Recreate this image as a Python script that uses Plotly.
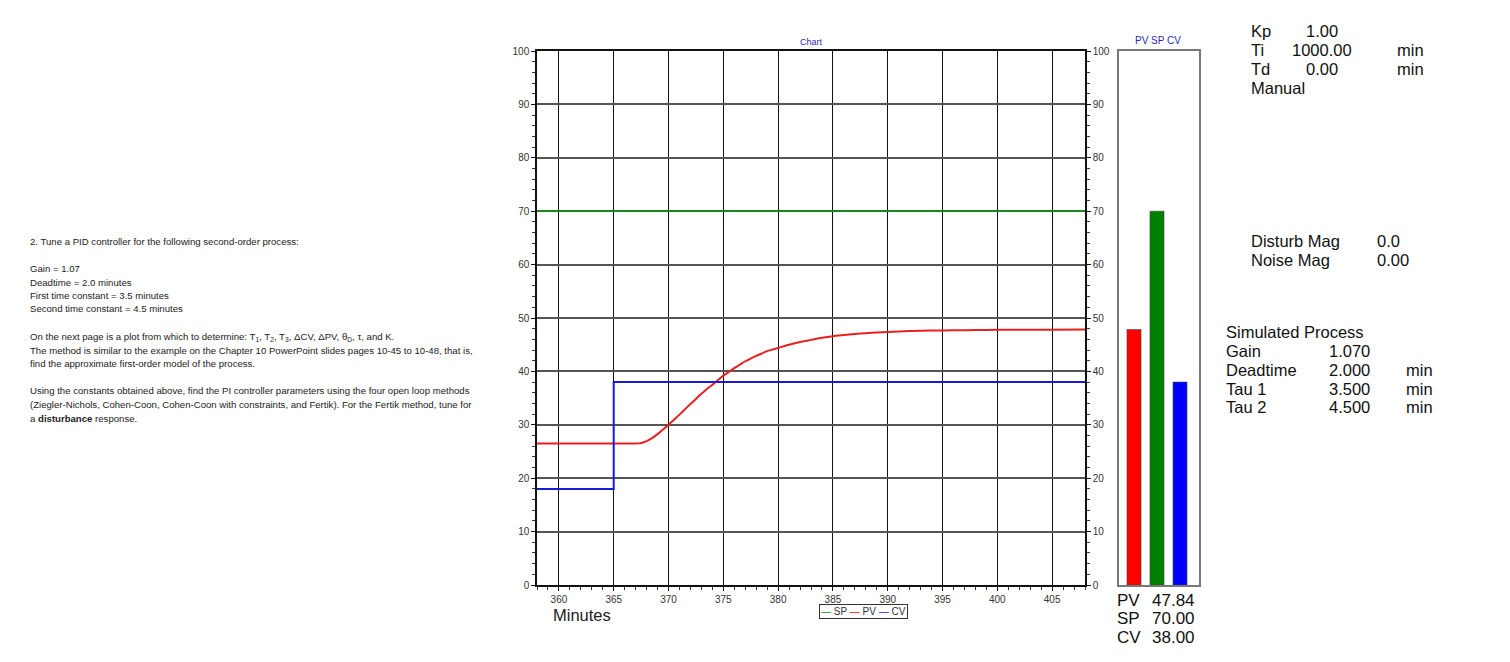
import plotly.graph_objects as go

W, H = 1510, 662

# ---------------- data ----------------
time_pv = [358, 362, 366, 367.0, 367.3, 367.6, 368, 368.5, 369, 369.5, 370, 370.5, 371, 371.5, 372, 372.5, 373,
           373.5, 374, 374.5, 375, 375.5, 376, 376.5, 377, 377.5, 378, 378.5, 379, 379.5,
           380, 381, 382, 383, 384, 385, 386, 387, 388, 389, 390, 392, 394, 396, 398, 400, 403, 405, 408]
pv_vals = [26.5, 26.5, 26.5, 26.5, 26.52, 26.65, 26.95, 27.5, 28.25, 29.1, 30.0, 30.95, 31.9, 32.9, 33.9, 34.85, 35.8,
           36.7, 37.5, 38.35, 39.2, 39.9, 40.6, 41.25, 41.9, 42.4, 42.9, 43.35, 43.8, 44.1,
           44.4, 45.0, 45.5, 45.9, 46.3, 46.6, 46.8, 47.0, 47.15, 47.3, 47.4, 47.55, 47.65, 47.7, 47.75, 47.78, 47.8, 47.82, 47.84]
time_cv = [358, 365, 408]
cv_vals = [18, 38, 38]
time_sp = [358, 408]
sp_vals = [70, 70]

bar_labels = ["PV", "SP", "CV"]
bar_values = [47.84, 70.00, 38.00]
bar_colors = ["#ff0000", "#008000", "#0000ff"]

x_ticks = [360, 365, 370, 375, 380, 385, 390, 395, 400, 405]
y_ticks = [0, 10, 20, 30, 40, 50, 60, 70, 80, 90, 100]

controller = [("Kp", "1.00", ""), ("Ti", "1000.00", "min"), ("Td", "0.00", "min")]
mode = "Manual"
disturb = [("Disturb Mag", "0.0"), ("Noise Mag", "0.00")]
process = [("Gain", "1.070", ""), ("Deadtime", "2.000", "min"), ("Tau 1", "3.500", "min"), ("Tau 2", "4.500", "min")]

problem_lines = [
    (241, "2. Tune a PID controller for the following second-order process:"),
    (268, "Gain = 1.07"),
    (282, "Deadtime = 2.0 minutes"),
    (295, "First time constant = 3.5 minutes"),
    (309, "Second time constant = 4.5 minutes"),
    (337, "On the next page is a plot from which to determine: T<sub>1</sub>, T<sub>2</sub>, T<sub>3</sub>, ΔCV, ΔPV, θ<sub>D</sub>, τ, and K."),
    (350, "The method is similar to the example on the Chapter 10 PowerPoint slides pages 10-45 to 10-48, that is,"),
    (363, "find the approximate first-order model of the process."),
    (390, "Using the constants obtained above, find the PI controller parameters using the four open loop methods"),
    (404, "(Ziegler-Nichols, Cohen-Coon, Cohen-Coon with constraints, and Fertik). For the Fertik method, tune for"),
    (418, "a <b>disturbance</b> response."),
]

# ---------------- helpers ----------------
def px(x):
    return x / W

def py(y):
    return 1 - y / H

FONT = "Liberation Sans, Arial, sans-serif"

fig = go.Figure()

fig.add_trace(go.Scatter(x=time_sp, y=sp_vals, mode="lines", line=dict(color="#1a8a1a", width=1.8),
                         name="SP", showlegend=False, hoverinfo="skip"))
fig.add_trace(go.Scatter(x=time_pv, y=pv_vals, mode="lines",
                         line=dict(color="#e82020", width=2, shape="spline", smoothing=0.6),
                         name="PV", showlegend=False))
fig.add_trace(go.Scatter(x=time_cv, y=cv_vals, mode="lines", line=dict(color="#1a1adc", width=2, shape="hv"),
                         name="CV", showlegend=False))
# invisible trace to anchor the right-side axis
fig.add_trace(go.Scatter(x=time_sp, y=sp_vals, yaxis="y3", mode="lines", opacity=0,
                         showlegend=False, hoverinfo="skip"))

fig.add_trace(go.Bar(x=[0, 1, 2], y=bar_values, marker=dict(color=bar_colors, line=dict(color="#444444", width=0.6)),
                     width=0.61, xaxis="x2", yaxis="y2", showlegend=False))

xd = [px(537), px(1085)]
yd = [py(585), py(51)]
tickfont = dict(family=FONT, size=10, color="#333333")

fig.update_layout(
    width=W, height=H,
    margin=dict(l=0, r=0, t=0, b=0, autoexpand=False),
    paper_bgcolor="white", plot_bgcolor="white",
    xaxis=dict(domain=xd, range=[358, 408], tickvals=x_ticks, showgrid=True, gridcolor="#111111", gridwidth=1.2,
               zeroline=False, showline=True, linecolor="#111111", linewidth=1.5, mirror=True, automargin=False,
               ticks="outside", ticklen=4, tickcolor="#111111", tickfont=tickfont,
               minor=dict(dtick=1, ticks="outside", ticklen=3, tickcolor="#333333", showgrid=False)),
    yaxis=dict(domain=yd, range=[0, 100], tickvals=y_ticks, showgrid=True, gridcolor="#555555", gridwidth=1.6,
               zeroline=False, showline=True, linecolor="#111111", linewidth=1.5, automargin=False,
               ticks="outside", ticklen=4, tickcolor="#111111", tickfont=tickfont,
               minor=dict(dtick=2, ticks="outside", ticklen=3, tickcolor="#333333", showgrid=False)),
    yaxis3=dict(domain=yd, range=[0, 100], tickvals=y_ticks, overlaying="y", side="right", anchor="x",
                showgrid=False, zeroline=False, showline=True, linecolor="#111111", linewidth=1.5, automargin=False,
                ticks="outside", ticklen=4, tickcolor="#111111", tickfont=tickfont,
                minor=dict(dtick=2, ticks="outside", ticklen=3, tickcolor="#333333")),
    xaxis2=dict(domain=[px(1119), px(1199)], range=[-0.652, 2.826], anchor="y2", showgrid=False, zeroline=False,
                automargin=False, showticklabels=False, ticks="", showline=True, linecolor="#777777",
                linewidth=1.5, mirror=True),
    yaxis2=dict(domain=yd, range=[0, 100], anchor="x2", showgrid=False, zeroline=False, automargin=False,
                showticklabels=False, ticks="", showline=True, linecolor="#777777", linewidth=1.5, mirror=True),
    font=dict(family=FONT),
)

ann = []

def text(x, y, s, size=16.5, color="#111111", anchor="left", family=FONT):
    dx = -2 if anchor == "left" else (2 if anchor == "right" else 0)
    ann.append(dict(x=px(x + dx), y=py(y), xref="paper", yref="paper", text=s, showarrow=False,
                    xanchor=anchor, yanchor="middle", font=dict(family=family, size=size, color=color)))

# titles
text(811, 42, "Chart", size=9, color="#2a2ab0", anchor="center")
text(1158, 40, "PV SP CV", size=10, color="#2a2ab0", anchor="center")
text(553, 615, "Minutes", size=16.5, color="#222222")

# legend box
ann.append(dict(x=px(863.5), y=py(611), xref="paper", yref="paper", showarrow=False, xanchor="center", yanchor="middle",
                text="<span style='color:#1a8a1a'>—</span> SP <span style='color:#e82020'>—</span> PV "
                     "<span style='color:#1a1adc'>—</span> CV",
                font=dict(family=FONT, size=10, color="#333333"),
                bordercolor="#333333", borderwidth=1, borderpad=1, bgcolor="white"))

# bar values below panel
for i, (lab, val) in enumerate(zip(bar_labels, bar_values)):
    yy = 600 + i * 18.5
    text(1117, yy, lab, size=17)
    text(1195, yy, f"{val:.2f}", size=17, anchor="right")

# controller block
for i, (lab, val, unit) in enumerate(controller):
    yy = 31 + i * 19
    text(1251, yy, lab)
    text(1322, yy, val, anchor="center")
    if unit:
        text(1397, yy, unit)
text(1251, 88, mode)

for i, (lab, val) in enumerate(disturb):
    yy = 241 + i * 19
    text(1251, yy, lab)
    text(1377, yy, val)

text(1226, 332, "Simulated Process")
for i, (lab, val, unit) in enumerate(process):
    yy = 351 + i * 18.8
    text(1226, yy, lab)
    text(1370, yy, val, anchor="right")
    if unit:
        text(1406, yy, unit)

# problem statement text
for yy, s in problem_lines:
    text(30, yy, s, size=9.6, color="#222222")

fig.update_layout(annotations=ann)

fig.write_html("out.html")
